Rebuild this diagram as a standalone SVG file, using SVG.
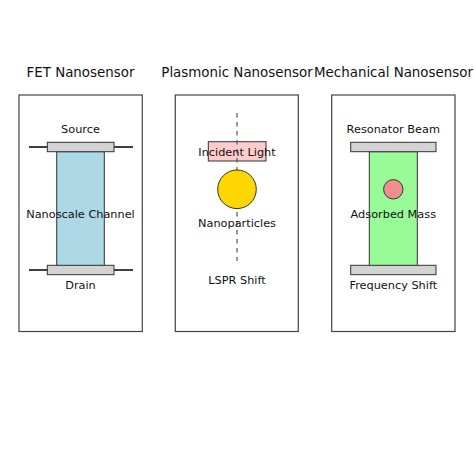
<svg xmlns="http://www.w3.org/2000/svg" width="474" height="474" viewBox="0 0 474 474">
<style>
text{font-family:"DejaVu Sans",sans-serif;fill:#111;text-anchor:middle;dominant-baseline:central}
.t{font-size:13.4px}
.l{font-size:11.3px}
.frame{fill:none;stroke:#444;stroke-width:1.2}
.elec{fill:#d3d3d3;stroke:#333;stroke-width:1}
.wire{stroke:#000;stroke-width:1.5}
</style>
<rect width="474" height="474" fill="#fff"/>
<g id="fet">
<text class="t" x="80.5" y="72">FET Nanosensor</text>
<rect class="frame" x="19" y="95" width="123.3" height="236.5"/>
<g id="connectors">
<line class="wire" x1="29" y1="147" x2="133" y2="147"/>
<line class="wire" x1="29" y1="270" x2="133" y2="270"/>
</g>
<rect x="56.7" y="151.7" width="47.6" height="114" fill="#add8e6" stroke="#333"/>
<rect class="elec" x="47.3" y="142.3" width="66.7" height="9.4"/>
<rect class="elec" x="47.3" y="265.3" width="66.7" height="9.4"/>
<text class="l" x="80.5" y="129">Source</text>
<text class="l" x="80.5" y="214">Nanoscale Channel</text>
<text class="l" x="80.5" y="285">Drain</text>
</g>
<g id="plasmonic">
<text class="t" x="237" y="72">Plasmonic Nanosensor</text>
<rect class="frame" x="175.3" y="95" width="123" height="236.5"/>
<rect x="208.3" y="141.7" width="57.7" height="19.3" fill="#ffcccc" stroke="#333"/>
<line x1="237" y1="113" x2="237" y2="261" stroke="#555" stroke-width="1.2" stroke-dasharray="4.5,4.5"/>
<circle cx="237" cy="189.3" r="19.3" fill="#ffd700" stroke="#333"/>
<text class="l" x="237" y="152">Incident Light</text>
<text class="l" x="237" y="223">Nanoparticles</text>
<text class="l" x="237" y="280">LSPR Shift</text>
</g>
<g id="mechanical">
<text class="t" x="393.5" y="72">Mechanical Nanosensor</text>
<rect class="frame" x="331.7" y="95" width="123.3" height="236.5"/>
<rect x="369.3" y="151.7" width="48" height="114" fill="#98fb98" stroke="#333"/>
<rect class="elec" x="350.7" y="142.3" width="85.3" height="9.4"/>
<rect class="elec" x="350.7" y="265.3" width="85.3" height="9.4"/>
<circle cx="393.3" cy="189.3" r="9.7" fill="#f08f8f" stroke="#333"/>
<text class="l" x="393.3" y="129">Resonator Beam</text>
<text class="l" x="393.3" y="214">Adsorbed Mass</text>
<text class="l" x="393.3" y="285">Frequency Shift</text>
</g>
</svg>
